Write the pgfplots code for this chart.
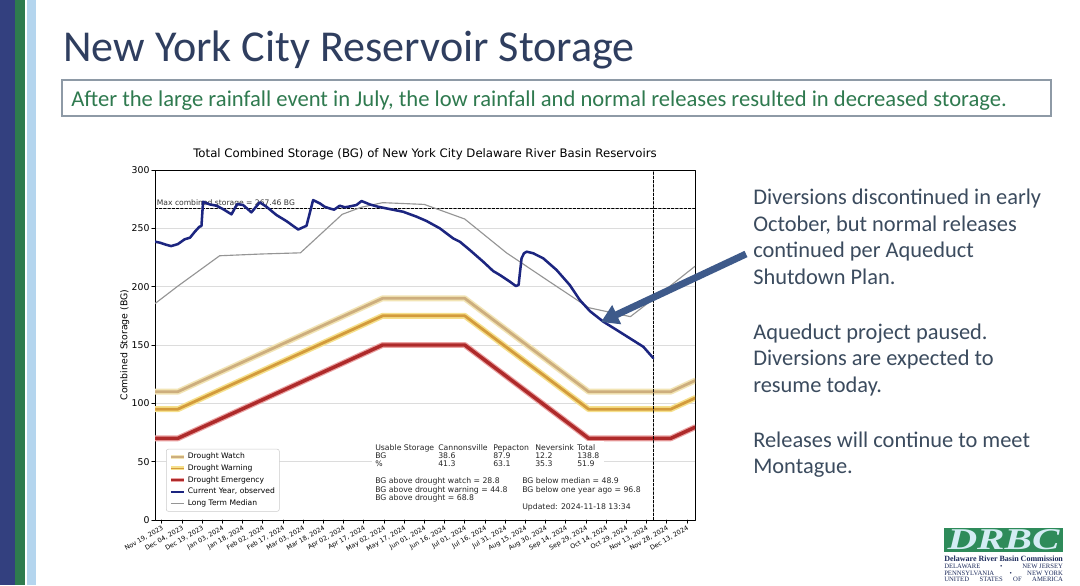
\documentclass[border=0pt]{standalone}
\usepackage{graphicx}
\usepackage{pgfplots}
\usepackage{pgfplotstable}
\pgfplotsset{compat=1.18}
\usepackage{fontspec}
\setmainfont{Carlito}
\newfontfamily\dejavu{DejaVu Sans}
\newfontfamily\lserif{Liberation Serif}
\usetikzlibrary{arrows.meta}

\definecolor{navystripe}{HTML}{33407F}
\definecolor{greenstripe}{HTML}{2E7B4E}
\definecolor{lightstripe}{HTML}{B4D5EE}
\definecolor{titleblue}{HTML}{2F3E5F}
\definecolor{subgreen}{HTML}{2F7A4F}
\definecolor{boxgray}{HTML}{8E9AA6}
\definecolor{bodytext}{HTML}{3B4B5E}
\definecolor{arrowblue}{HTML}{3E5A8A}
\definecolor{watchin}{HTML}{CDAE7E}
\definecolor{watchout}{HTML}{F2E4B4}
\definecolor{warnin}{HTML}{D39B3C}
\definecolor{warnout}{HTML}{F6E08C}
\definecolor{emerin}{HTML}{AE2A2A}
\definecolor{emerout}{HTML}{EBA3A3}
\definecolor{curblue}{HTML}{1C2580}
\definecolor{mediangray}{HTML}{959595}
\definecolor{gridgray}{HTML}{DCDCDC}
\definecolor{logogreen}{HTML}{2E8B5A}
\definecolor{logoletters}{HTML}{D4ECF4}
\definecolor{logotext}{HTML}{1D2B5C}

% x = days since Nov 19, 2023; y = combined storage (BG)
\pgfplotstableread{
day val
-5 110
12 110
164 190
225 190
317 110
378 110
396 119.5
}\watchdata
\pgfplotstableread{
day val
-5 95
12 95
164 175
225 175
317 95
378 95
396 104.5
}\warndata
\pgfplotstableread{
day val
-5 70
12 70
164 150
225 150
317 70
378 70
396 79.5
}\emerdata
\pgfplotstableread{
day val
-5 185.5
12 200.5
43 226.5
74 228
103 229
134 262
148 268
164 272
195 270.5
225 258
256 229
287 205
317 182
348 174.3
378 201
396 217.5
}\mediandata
\pgfplotstableread{
day val
-5 238.6
-1 237.6
3 236
7 234.8
12 236.5
17 240.6
21 242
24.5 247
28 251.4
29.5 252
30.7 272.8
35.7 270.5
40.6 269.4
45.5 266.5
51.8 262
56 270.8
60.4 270
66.6 263.7
72.8 272.3
77.8 268.5
85.2 261.4
92.6 256.2
101.3 249
107.5 252.2
112.4 274.2
117.4 271.4
121 268.5
124.8 267
128 266
132.2 269.4
136 268
139.7 268.8
144.6 270
148.4 273.4
154.5 270.5
160.7 268.5
169.4 266.5
179.3 264.2
189.2 260
196.6 256.3
206.5 250
216.4 241.4
221.4 238.5
228.8 231.4
238.7 221.4
246.1 213.4
251.1 210
258.5 204.3
263 200.5
265 201.5
266 212
267.2 224.3
269 228.6
271 230
275.9 228.6
283.3 224.3
293.2 214.3
303 201.4
310.5 188.5
318 179
327.9 170
337.8 162.9
347.7 155.7
357.6 148.5
365 138.8
}\currentdata

\begin{document}
\begin{tikzpicture}
% ---------- slide background ----------
\begin{scope}[x=0.75pt,y=-0.75pt]
\useasboundingbox (0,0) rectangle (1080,585);
\fill[white] (0,0) rectangle (1080,585);
\fill[navystripe] (0,0) rectangle (15,585);
\fill[greenstripe] (15,0) rectangle (25,585);
\fill[lightstripe] (27,0) rectangle (36,585);
\node[anchor=base west, inner sep=0, text=titleblue,
      font=\fontsize{33.1}{36}\selectfont] at (63,62) {New York City Reservoir Storage};
\draw[boxgray, line width=1.5pt] (62,80) rectangle (1051,116);
\node[anchor=base west, inner sep=0, text=subgreen,
      font=\fontsize{16.95}{19}\selectfont] at (71,106)
  {After the large rainfall event in July, the low rainfall and normal releases resulted in decreased storage.};
\end{scope}

% ---------- storage chart ----------
\begin{axis}[
  at={(116.25pt,-390pt)}, anchor=south west,
  scale only axis, width=405pt, height=262.5pt,
  xmin=-5, xmax=396, ymin=0, ymax=300,
  axis line style={black, line width=0.6pt},
  tick pos=left, tick align=outside,
  major tick length=2.4pt,
  every tick/.style={black, line width=0.5pt},
  ytick={0,50,...,300},
  xtick={0,15,...,390},
  xticklabels={{Nov 19, 2023},{Dec 04, 2023},{Dec 19, 2023},{Jan 03, 2024},{Jan 18, 2024},{Feb 02, 2024},{Feb 17, 2024},{Mar 03, 2024},{Mar 18, 2024},{Apr 02, 2024},{Apr 17, 2024},{May 02, 2024},{May 17, 2024},{Jun 01, 2024},{Jun 16, 2024},{Jul 01, 2024},{Jul 16, 2024},{Jul 31, 2024},{Aug 15, 2024},{Aug 30, 2024},{Sep 14, 2024},{Sep 29, 2024},{Oct 14, 2024},{Oct 29, 2024},{Nov 13, 2024},{Nov 28, 2024},{Dec 13, 2024}},
  /pgf/number format/assume math mode=true,
  yticklabel style={font=\dejavu\fontsize{7}{8}\selectfont, inner sep=1.5pt},
  xticklabel style={font=\dejavu\fontsize{4.8}{6}\selectfont, rotate=30, anchor=north east, inner sep=0.8pt},
  ymajorgrids, grid style={gridgray, line width=0.6pt},
  ylabel={Combined Storage (BG)},
  ylabel style={font=\dejavu\fontsize{7}{8}\selectfont, at={(axis description cs:-0.056,0.5)}, anchor=center},
  title={Total Combined Storage (BG) of New York City Delaware River Basin Reservoirs},
  title style={font=\dejavu\fontsize{8.8}{10}\selectfont, at={(axis description cs:0.5,1)}, anchor=base, yshift=3.6pt, inner sep=0},
  legend style={at={(axis description cs:0.0204,0.203)}, anchor=north west,
    draw=black!20, rounded corners=1.5pt, fill=white,
    font=\dejavu\fontsize{5.7}{6.5}\selectfont,
    nodes={inner sep=1.2pt}, row sep=0.6pt, inner xsep=2pt, inner ysep=1.5pt},
  legend cell align=left,
  legend image code/.code={\draw[#1] (0pt,0pt) -- (10pt,0pt);},
  line join=round, line cap=round,
]
% legend entries
\addlegendimage{legend image code/.code={\draw[watchout,line width=3pt] (0pt,0pt)--(10pt,0pt);\draw[watchin,line width=1.3pt] (0pt,0pt)--(10pt,0pt);}}
\addlegendentry{Drought Watch}
\addlegendimage{legend image code/.code={\draw[warnout,line width=3pt] (0pt,0pt)--(10pt,0pt);\draw[warnin,line width=1.3pt] (0pt,0pt)--(10pt,0pt);}}
\addlegendentry{Drought Warning}
\addlegendimage{legend image code/.code={\draw[emerout,line width=3pt] (0pt,0pt)--(10pt,0pt);\draw[emerin,line width=1.6pt] (0pt,0pt)--(10pt,0pt);}}
\addlegendentry{Drought Emergency}
\addlegendimage{curblue, line width=1.4pt}
\addlegendentry{Current Year, observed}
\addlegendimage{mediangray, line width=0.7pt}
\addlegendentry{Long Term Median}

% drought rule curves
\addplot[watchout, line width=4.4pt, forget plot] table[x=day,y=val] {\watchdata};
\addplot[watchin, line width=2.1pt, forget plot] table[x=day,y=val] {\watchdata};
\addplot[warnout, line width=4.4pt, forget plot] table[x=day,y=val] {\warndata};
\addplot[warnin, line width=2.1pt, forget plot] table[x=day,y=val] {\warndata};
\addplot[emerout, line width=4.4pt, forget plot] table[x=day,y=val] {\emerdata};
\addplot[emerin, line width=2.6pt, forget plot] table[x=day,y=val] {\emerdata};

% max storage reference and today marker
\addplot[black, line width=0.6pt, dash pattern=on 2pt off 1.2pt, forget plot] coordinates {(-5,267.46) (396,267.46)};
\addplot[black, line width=0.6pt, dash pattern=on 2pt off 1.2pt, forget plot] coordinates {(365,0) (365,300)};
\node[anchor=base west, inner sep=0, font=\dejavu\fontsize{5.7}{6.5}\selectfont, text=black!80] at (axis cs:-3.8,270) {Max combined storage = 267.46 BG};

% median and observed storage
\addplot[mediangray, line width=0.85pt, forget plot] table[x=day,y=val] {\mediandata};
\addplot[curblue, line width=1.9pt, forget plot] table[x=day,y=val] {\currentdata};
\end{axis}

% ---------- chart annotations, notes, logo ----------
\begin{scope}[x=0.75pt,y=-0.75pt]
\fill[white] (372,441) rectangle (604,512);
\begin{scope}[every node/.style={anchor=base west, inner sep=0, font=\dejavu\fontsize{5.8}{7}\selectfont, text=black!85}]
\node at (375,450) {Usable Storage};
\node at (438,450) {Cannonsville};
\node at (493,450) {Pepacton};
\node at (535,450) {Neversink};
\node at (577,450) {Total};
\node at (375,458) {BG};
\node at (438,458) {38.6};
\node at (493,458) {87.9};
\node at (535,458) {12.2};
\node at (577,458) {138.8};
\node at (375,466) {\%};
\node at (438,466) {41.3};
\node at (493,466) {63.1};
\node at (535,466) {35.3};
\node at (577,466) {51.9};
\node at (375,483) {BG above drought watch = 28.8};
\node at (375,492) {BG above drought warning = 44.8};
\node at (375,500) {BG above drought = 68.8};
\node at (522,483) {BG below median = 48.9};
\node at (522,492) {BG below one year ago = 96.8};
\node at (522,509) {Updated: 2024-11-18 13:34};
\end{scope}

% callout arrow
\draw[arrowblue, line width=5.2pt, -{Triangle[length=13pt,width=15pt]}] (746,254) -- (601,322);

% notes
\begin{scope}[every node/.style={anchor=base west, inner sep=0, text=bodytext, font=\fontsize{16.8}{20}\selectfont}]
\node at (753,204) {Diversions discontinued in early};
\node at (753,231) {October, but normal releases};
\node at (753,257) {continued per Aqueduct};
\node at (753,284) {Shutdown Plan.};
\node at (753,339) {Aqueduct project paused.};
\node at (753,365) {Diversions are expected to};
\node at (753,392) {resume today.};
\node at (753,447) {Releases will continue to meet};
\node at (753,473) {Montague.};
\end{scope}

% commission logo
\fill[logogreen] (944,528) rectangle (1063,552);
\node[inner sep=0, text=logoletters] at (1003.5,540) {\resizebox{84pt}{15pt}{\lserif\bfseries\itshape DRBC}};
\node[anchor=base west, inner sep=0, text=logotext] at (944,561) {\resizebox{89pt}{!}{\lserif\bfseries Delaware River Basin Commission}};
\node[anchor=base west, inner sep=0, text=logotext, font=\lserif\fontsize{5}{5}\selectfont] at (944,568.5) {\hbox to 89pt{DELAWARE\hfill•\hfill NEW JERSEY}};
\node[anchor=base west, inner sep=0, text=logotext, font=\lserif\fontsize{5}{5}\selectfont] at (944,575) {\hbox to 89pt{PENNSYLVANIA\hfill•\hfill NEW YORK}};
\node[anchor=base west, inner sep=0, text=logotext, font=\lserif\fontsize{5}{5}\selectfont] at (944,581.5) {\hbox to 89pt{UNITED STATES OF AMERICA}};
\end{scope}
\end{tikzpicture}
\end{document}
